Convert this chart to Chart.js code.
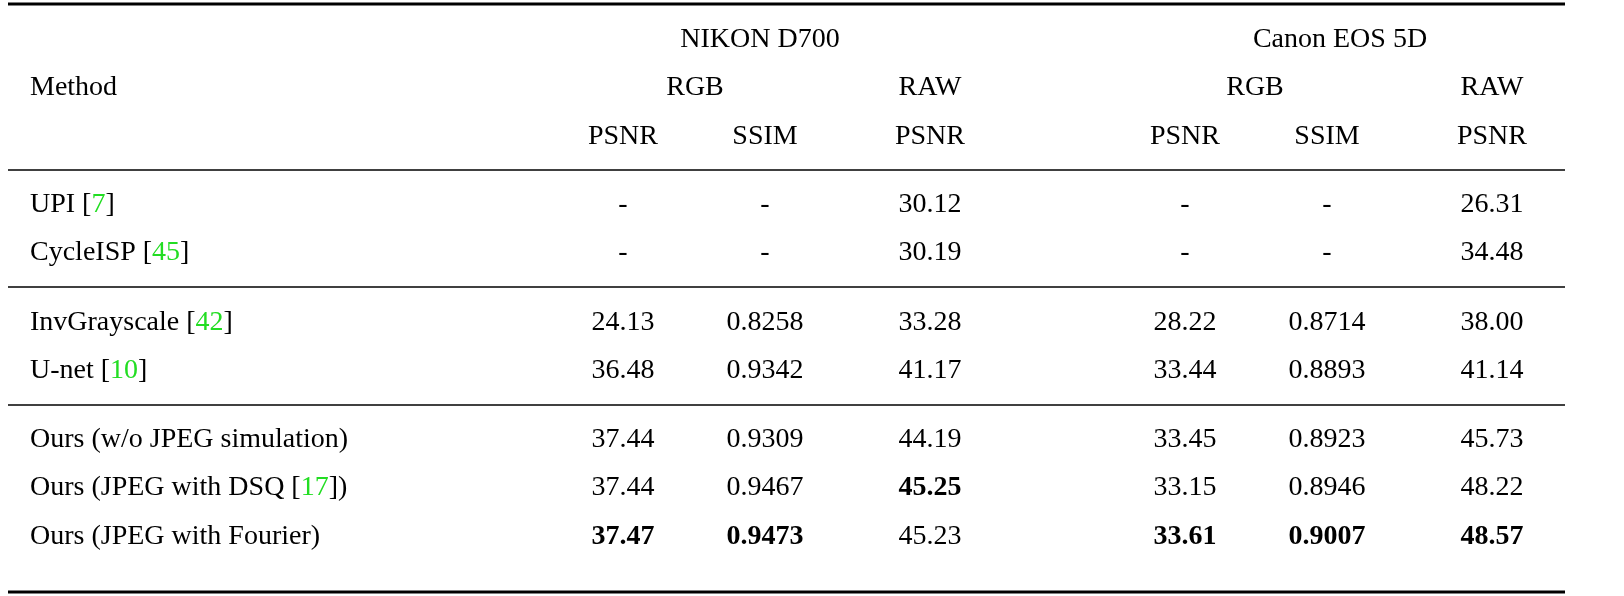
<!DOCTYPE html>
<html><head><meta charset="utf-8">
<script src="https://cdn.jsdelivr.net/npm/chart.js@4"></script>
<style>html,body{margin:0;padding:0;background:#fff;overflow:hidden}#c{display:block}</style>
</head><body>
<canvas id="c" width="1624" height="596" style="width:1624px;height:596px"></canvas>
<script>
// ---- data ----
const methods = [
  ["UPI [", "7", "]"],
  ["CycleISP [", "45", "]"],
  ["InvGrayscale [", "42", "]"],
  ["U-net [", "10", "]"],
  ["Ours (w/o JPEG simulation)", "", ""],
  ["Ours (JPEG with DSQ [", "17", "])"],
  ["Ours (JPEG with Fourier)", "", ""]
];
const colHeaders = ["PSNR","SSIM","PSNR","PSNR","SSIM","PSNR"];
const nikonRgbPsnr = ["-","-","24.13","36.48","37.44","37.44","37.47"];
const nikonRgbSsim = ["-","-","0.8258","0.9342","0.9309","0.9467","0.9473"];
const nikonRawPsnr = ["30.12","30.19","33.28","41.17","44.19","45.25","45.23"];
const canonRgbPsnr = ["-","-","28.22","33.44","33.45","33.15","33.61"];
const canonRgbSsim = ["-","-","0.8714","0.8893","0.8923","0.8946","0.9007"];
const canonRawPsnr = ["26.31","34.48","38.00","41.14","45.73","48.22","48.57"];
const boldCells = [[6,0],[6,1],[5,2],[6,3],[6,4],[6,5]];
// ---- layout ----
const colX = [623,765,930,1185,1327,1492];
const rowY = [205,253,323,371,440,488,537];
const cols = [nikonRgbPsnr,nikonRgbSsim,nikonRawPsnr,canonRgbPsnr,canonRgbSsim,canonRawPsnr];

const tablePlugin = {
  id:'table',
  afterDraw(chart){
    const ctx = chart.ctx, xs = chart.scales.x, ys = chart.scales.y;
    const X = v=>xs.getPixelForValue(v), Y = v=>ys.getPixelForValue(v);
    const F = 'Liberation Serif, "Times New Roman", serif';
    ctx.save();
    ctx.fillStyle='#000'; ctx.textBaseline='middle';
    const txt=(s,x,y,align,bold)=>{ctx.font=(bold?'bold ':'')+'28px '+F;ctx.textAlign=align;ctx.fillText(s,X(x),Y(y));};
    const rule=(y,w)=>{ctx.lineWidth=w;ctx.strokeStyle='#000';ctx.beginPath();ctx.moveTo(X(8),Y(y));ctx.lineTo(X(1565),Y(y));ctx.stroke();};
    rule(4,3); rule(170,1.3); rule(287,1.3); rule(405,1.3); rule(592,3);
    txt("NIKON D700",760,40,'center');
    txt("Canon EOS 5D",1340,40,'center');
    txt("Method",30,88,'left');
    txt("RGB",695,88,'center'); txt("RAW",930,88,'center');
    txt("RGB",1255,88,'center'); txt("RAW",1492,88,'center');
    colHeaders.forEach((h,i)=>txt(h,colX[i],137,'center'));
    methods.forEach((m,r)=>{
      ctx.font='28px '+F; ctx.textAlign='left';
      let x=X(30), y=Y(rowY[r]);
      ctx.fillStyle='#000'; ctx.fillText(m[0],x,y); x+=ctx.measureText(m[0]).width;
      ctx.fillStyle='#22dd22'; ctx.fillText(m[1],x,y); x+=ctx.measureText(m[1]).width;
      ctx.fillStyle='#000'; ctx.fillText(m[2],x,y);
    });
    cols.forEach((col,c)=>col.forEach((v,r)=>{
      const b = boldCells.some(([br,bc])=>br===r&&bc===c);
      txt(v,colX[c],rowY[r],'center',b);
    }));
    ctx.restore();
  }
};
new Chart(document.getElementById('c'),{
  type:'scatter',
  data:{datasets:[{data:[]}]},
  options:{
    responsive:false, animation:false, devicePixelRatio:1,
    layout:{padding:0},
    plugins:{legend:{display:false},tooltip:{enabled:false}},
    scales:{
      x:{type:'linear',min:0,max:1624,display:false},
      y:{type:'linear',min:0,max:596,reverse:true,display:false}
    }
  },
  plugins:[tablePlugin]
});
</script>
</body></html>
